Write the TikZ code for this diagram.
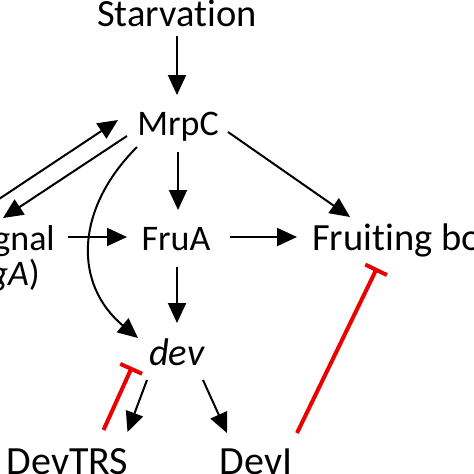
\documentclass[tikz,border=0pt]{standalone}
\usepackage{fontspec}
\setmainfont{Carlito}[Ligatures=NoCommon]
\usetikzlibrary{arrows.meta,calc}
\definecolor{inhred}{RGB}{235,0,0}
\begin{document}
\begin{tikzpicture}[x=1pt,y=-1pt,
  lbl/.style={font=\fontsize{36}{36}\selectfont, inner sep=0pt, anchor=base},
  big/.style={font=\fontsize{40}{40}\selectfont},
  mid/.style={font=\fontsize{38.5}{38}\selectfont},
  arr/.style={line width=2pt, -{Triangle[length=20pt,width=18pt]}},
  inh/.style={line width=4pt, draw=inhred, -{Bar[width=24pt]}}]
\useasboundingbox (0,0) rectangle (474,474);
\clip (0,0) rectangle (474,474);
% nodes
\node[lbl,mid] (starv) at (177,26) {Starvation};
\node[lbl] (mrpc) at (178,135) {MrpC};
\node[lbl] (frua) at (176,250) {FruA};
\node[lbl,anchor=base east] (csig) at (55,250) {C-signal};
\node[lbl,anchor=base east] (csga) at (40,285) {(\textit{csgA})};
\node[lbl,mid,anchor=base west] (fruit) at (312,250) {Fruiting body};
\node[lbl,mid] (dev) at (177,365) {\textit{dev}};
\node[lbl,big] (devtrs) at (67.5,474) {DevTRS};
\node[lbl,big] (devi) at (256,474) {DevI};
% activations
\draw[arr] ($(starv.base)+(0,10)$) -- ($(mrpc.base)+(-1,-40)$);
\draw[arr] ($(mrpc.base)+(0,17)$) -- ($(frua.base)+(2,-40)$);
\draw[arr] ($(frua.base)+(1,17)$) -- ($(dev.base)+(0,-42)$);
\draw[arr] ($(csig.base east)+(13,-13)$) -- ($(frua.base)+(-49,-13)$);
\draw[arr] ($(csig.base east)+(-65,-45)$) -- ($(mrpc.base)+(-60,-15)$);
\draw[arr] ($(mrpc.base)+(-51,1)$) -- ($(csig.base east)+(-52,-32)$);
\draw[arr] ($(mrpc.base)+(50,-3)$) -- ($(fruit.base west)+(38,-33)$);
\draw[arr] ($(frua.base)+(54,-13)$) -- ($(fruit.base west)+(-15,-13)$);
\draw[arr] ($(mrpc.base)+(-41,12)$) .. controls (74,210) and (74,285) .. ($(dev.base)+(-39,-27)$);
\draw[arr] ($(dev.base)+(-30,15)$) -- ($(devtrs.base)+(60,-42)$);
\draw[arr] ($(dev.base)+(26,15)$) -- ($(devi.base)+(-29,-41)$);
% inhibitions
\draw[inh] ($(devtrs.base)+(36,-44)$) -- ($(dev.base)+(-45,2)$);
\draw[inh] ($(devi.base)+(41,-41)$) -- ($(fruit.base west)+(65,18)$);
\end{tikzpicture}
\end{document}
